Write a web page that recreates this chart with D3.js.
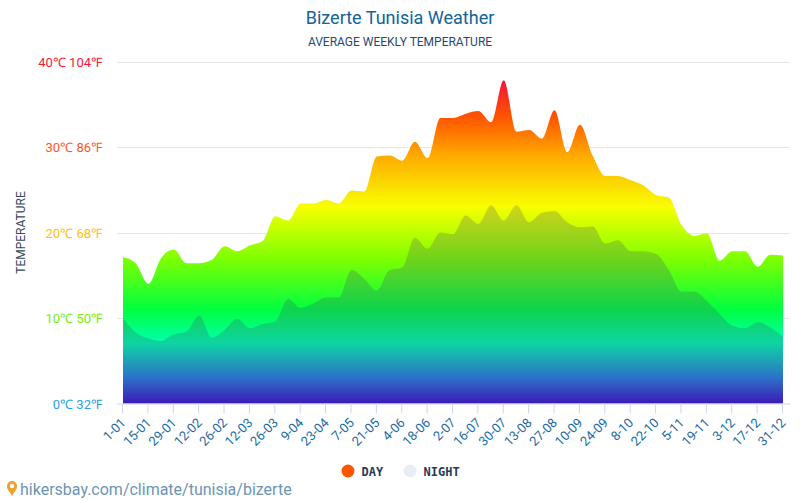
<!DOCTYPE html>
<html>
<head>
<meta charset="utf-8">
<script src="https://cdnjs.cloudflare.com/ajax/libs/d3/7.8.5/d3.min.js"></script>
<style>
  html, body { margin: 0; padding: 0; background: #fff; }
  svg { display: block; font-family: Roboto, sans-serif; }
</style>
</head>
<body>
<script>
// values, one per week
const dayTemp = [17.1, 16.4, 14.0, 17.0, 18.0, 16.4, 16.4, 16.8, 18.4, 17.8, 18.5, 19.0, 21.9, 21.4, 23.4, 23.4, 23.8, 23.4, 24.9, 24.8, 28.9, 29.0, 28.4, 30.6, 28.7, 33.4, 33.4, 33.9, 34.2, 32.9, 37.8, 31.8, 32.0, 31.0, 34.3, 29.4, 32.6, 29.0, 26.6, 26.6, 26.1, 25.5, 24.4, 24.1, 20.9, 19.6, 19.9, 16.7, 17.8, 17.8, 16.0, 17.4, 17.3];
const nightTemp = [10.0, 8.3, 7.6, 7.3, 8.1, 8.4, 10.3, 7.7, 8.6, 9.9, 8.8, 9.3, 9.6, 12.2, 11.2, 11.7, 12.4, 12.4, 15.6, 14.6, 13.2, 15.6, 15.9, 19.4, 18.1, 20.0, 19.8, 22.0, 21.0, 23.2, 21.4, 23.2, 21.2, 22.3, 22.5, 21.2, 20.6, 20.7, 18.7, 19.1, 17.8, 17.8, 17.5, 15.6, 13.1, 13.1, 12.0, 10.5, 9.1, 8.8, 9.5, 8.9, 7.8];
const xLabels = ["1-01", "15-01", "29-01", "12-02", "26-02", "12-03", "26-03", "9-04", "23-04", "7-05", "21-05", "4-06", "18-06", "2-07", "16-07", "30-07", "13-08", "27-08", "10-09", "24-09", "8-10", "22-10", "5-11", "19-11", "3-12", "17-12", "31-12"];
const yTicks = [0, 10, 20, 30, 40];
const yLabels = ["0℃ 32℉", "10℃ 50℉", "20℃ 68℉", "30℃ 86℉", "40℃ 104℉"];
const yColors = ["#2a9fe6", "#76ee10", "#ffc107", "#ff5722", "#f5183a"];
const gradTemps = [38, 33.5, 29, 23, 17, 11, 7, 3, 0];
const gradColors = ["#f5103c", "#ff5500", "#ffaa00", "#f8ff00", "#80ff00", "#00ff40", "#00ffb0", "#2a80e0", "#3c12c8"];

const width = 800, height = 500;
const margin = {top: 61.5, bottom: 96.5, left: 123, right: 17};

const svg = d3.select("body").append("svg")
  .attr("width", width)
  .attr("height", height);

const x = d3.scaleLinear().domain([0, dayTemp.length - 1]).range([margin.left, width - margin.right]);
const y = d3.scaleLinear().domain([0, 40]).range([height - margin.bottom, margin.top]);

// shared temperature gradient
const grad = svg.append("defs").append("linearGradient")
  .attr("id", "tempGrad")
  .attr("gradientUnits", "userSpaceOnUse")
  .attr("x1", 0).attr("x2", 0)
  .attr("y1", y(gradTemps[0])).attr("y2", y(0));
grad.selectAll("stop").data(gradTemps).join("stop")
  .attr("offset", d => (gradTemps[0] - d) / gradTemps[0])
  .attr("stop-color", (d, i) => gradColors[i]);

// grid
svg.append("g").selectAll("line").data(yTicks.slice(1)).join("line")
  .attr("x1", 117).attr("x2", 790)
  .attr("y1", d => Math.round(y(d)) + 0.5).attr("y2", d => Math.round(y(d)) + 0.5)
  .attr("stroke", "#e6e6e6");

// y labels
svg.append("g").selectAll("text").data(yTicks).join("text")
  .attr("x", 102)
  .attr("y", d => y(d) + 5)
  .attr("text-anchor", "end")
  .attr("font-size", 13)
  .attr("fill", (d, i) => yColors[i])
  .text((d, i) => yLabels[i]);

svg.append("text")
  .attr("transform", `translate(25, ${y(20)}) rotate(-90)`)
  .attr("text-anchor", "middle")
  .attr("font-size", 12)
  .attr("fill", "#34495e")
  .text("TEMPERATURE");

const area = d3.area()
  .x((d, i) => x(i))
  .y0(y(0))
  .y1(d => y(d))
  .curve(d3.curveMonotoneX);

svg.append("path").datum(dayTemp)
  .attr("d", area)
  .attr("fill", "url(#tempGrad)");

svg.append("path").datum(nightTemp)
  .attr("d", area)
  .attr("fill", "#3a3a78")
  .attr("fill-opacity", 0.22);

// x axis
svg.append("line")
  .attr("x1", 117).attr("x2", 790)
  .attr("y1", y(0) + 0.5).attr("y2", y(0) + 0.5)
  .attr("stroke", "#ccd6eb");

const xt = svg.append("g").selectAll("g").data(xLabels).join("g")
  .attr("transform", (d, i) => `translate(${x(i * 2) - 0.5}, ${y(0)})`);
xt.append("line")
  .attr("y1", 0).attr("y2", 10)
  .attr("stroke", "#ccd6eb");
xt.append("text")
  .attr("transform", "translate(4, 20) rotate(-45)")
  .attr("text-anchor", "end")
  .attr("font-size", 13)
  .attr("fill", "#1a6aa5")
  .text(d => d);

// titles
svg.append("text")
  .attr("x", 400).attr("y", 24)
  .attr("text-anchor", "middle")
  .attr("font-size", 18)
  .attr("fill", "#0f639e")
  .text("Bizerte Tunisia Weather");
svg.append("text")
  .attr("x", 400).attr("y", 46)
  .attr("text-anchor", "middle")
  .attr("font-size", 12)
  .attr("fill", "#1f4a75")
  .text("AVERAGE WEEKLY TEMPERATURE");

// legend
const legendNames = ["DAY", "NIGHT"];
const legendColors = ["#ff5500", "#e9edf4"];
const legendX = [348, 410];
const lg = svg.append("g").selectAll("g").data(legendNames).join("g")
  .attr("transform", (d, i) => `translate(${legendX[i]}, 471)`);
lg.append("circle").attr("r", 6.5).attr("fill", (d, i) => legendColors[i]);
lg.append("text")
  .attr("x", 13.5).attr("y", 4.5)
  .attr("font-family", "'DejaVu Sans Mono', monospace")
  .attr("font-weight", "bold")
  .attr("font-size", 12)
  .attr("fill", "#2b3a55")
  .text(d => d);

// source link with pin
const pin = svg.append("g").attr("transform", "translate(12, 487)");
pin.append("path")
  .attr("d", "M0,9 C-2,5 -5,3 -5,-1 A5,5 0 0 1 5,-1 C5,3 2,5 0,9 Z")
  .attr("fill", "#f0a030");
pin.append("circle").attr("cy", -1).attr("r", 2.2).attr("fill", "#fff");
svg.append("text")
  .attr("x", 20).attr("y", 495)
  .attr("font-size", 16)
  .attr("fill", "#6b95b5")
  .text("hikersbay.com/climate/tunisia/bizerte");
</script>
</body>
</html>
